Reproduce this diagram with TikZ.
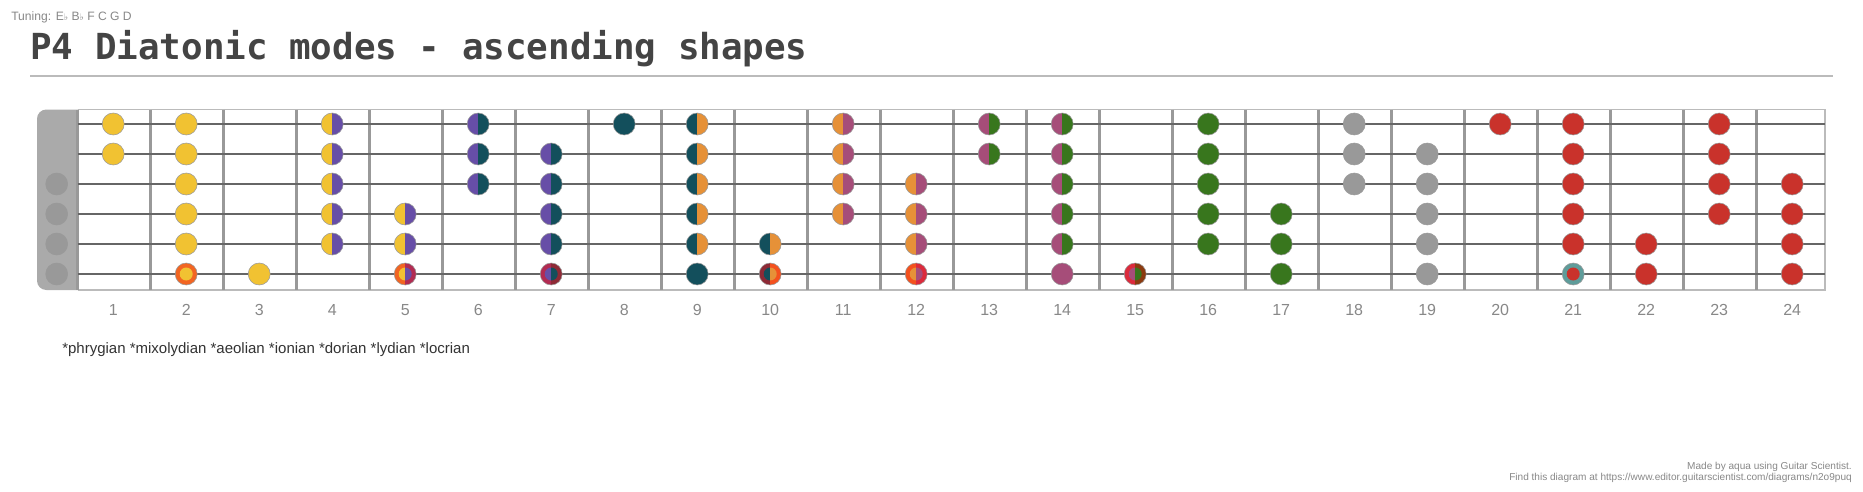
\documentclass[tikz,border=0pt]{standalone}
\usepackage{fontspec}
\setmainfont{Liberation Sans}
\newfontfamily\titlefont{DejaVu Sans Mono}
\newfontfamily\symfont{DejaVu Sans}
\definecolor{cyellow}{HTML}{F1C232}
\definecolor{cpurple}{HTML}{674EA7}
\definecolor{cteal}{HTML}{134F5C}
\definecolor{corange}{HTML}{E69138}
\definecolor{cpink}{HTML}{A64D79}
\definecolor{cgreen}{HTML}{38761D}
\definecolor{cgray}{HTML}{999999}
\definecolor{cred}{HTML}{C9322B}
\definecolor{rorange}{HTML}{F26522}
\definecolor{rcrimson}{HTML}{B22B52}
\definecolor{rdark}{HTML}{8E2A36}
\definecolor{rorred}{HTML}{F4511E}
\definecolor{rred}{HTML}{DC2A3C}
\definecolor{rbrown}{HTML}{8B3A0F}
\definecolor{rteal}{HTML}{5E9C9A}
\definecolor{dotedge}{HTML}{9A9A9A}
\definecolor{fretcol}{HTML}{999999}
\definecolor{stringcol}{HTML}{666666}
\definecolor{boardedge}{HTML}{BBBBBB}
\definecolor{nutcol}{HTML}{AAAAAA}
\definecolor{titlecol}{HTML}{444444}
\definecolor{numcol}{HTML}{888888}
\newcommand{\fbx}[1]{40.2+73*#1}
\newcommand{\fby}[1]{94+30*#1}
\newcommand{\fbdot}[3]{%
  \fill[#3] ({\fbx{#1}},{\fby{#2}}) circle (11);
  \draw[dotring] ({\fbx{#1}},{\fby{#2}}) circle (11);}
\newcommand{\fbhalf}[4]{%
  \fill[#3] ({\fbx{#1}},{\fby{#2}}) ++(90:11) arc[start angle=90,end angle=270,radius=11] -- cycle;
  \fill[#4] ({\fbx{#1}},{\fby{#2}}) ++(90:11) arc[start angle=90,end angle=-90,radius=11] -- cycle;
  \draw[dotring] ({\fbx{#1}},{\fby{#2}}) circle (11);}
\newcommand{\fbroot}[6]{%
  \fill[#3] ({\fbx{#1}},{\fby{#2}}) ++(90:11) arc[start angle=90,end angle=270,radius=11] -- cycle;
  \fill[#4] ({\fbx{#1}},{\fby{#2}}) ++(90:11) arc[start angle=90,end angle=-90,radius=11] -- cycle;
  \fill[#5] ({\fbx{#1}},{\fby{#2}}) ++(90:6.5) arc[start angle=90,end angle=270,radius=6.5] -- cycle;
  \fill[#6] ({\fbx{#1}},{\fby{#2}}) ++(90:6.5) arc[start angle=90,end angle=-90,radius=6.5] -- cycle;
  \draw[dotring] ({\fbx{#1}},{\fby{#2}}) circle (11);}
\begin{document}
\begin{tikzpicture}[x=0.75pt,y=-0.75pt,
  dotring/.style={draw=dotedge,line width=0.4pt},
  fretline/.style={draw=fretcol,line width=2.2pt},
  stringline/.style={draw=stringcol,line width=0.9pt},
  fretnum/.style={text=numcol,font=\fontsize{12}{14}\selectfont,inner sep=0pt,anchor=center},
  smalltxt/.style={inner sep=0pt}]
\useasboundingbox (0,0) rectangle (1863,492);
\fill[white] (0,0) rectangle (1863,492);
% header
\node[smalltxt,anchor=west,text=numcol,font=\fontsize{9.1}{11}\selectfont] (tuning) at (11,17) {Tuning: E{\symfont\fontsize{6.8}{8}\selectfont♭} B{\symfont\fontsize{6.8}{8}\selectfont♭} F C G D};
\node[smalltxt,anchor=base west,text=titlecol,font=\titlefont\bfseries\fontsize{26.9}{30}\selectfont] (title) at (30,60) {P4 Diatonic modes - ascending shapes};
\draw[boardedge,line width=1.5pt] (30,76) -- (1833,76);
% board
\fill[nutcol,rounded corners=7pt] (37,109.5) rectangle (90,290);
\fill[white] (77.7,109.5) rectangle (1825,290);
\draw[boardedge,line width=1pt] (77.7,109.5) -- (1825,109.5) -- (1825,290) -- (77.7,290);
\foreach \k in {0,...,23} { \draw[fretline] ({77.7+73*\k},109.5) -- ({77.7+73*\k},290); }
\foreach \s in {1,...,6} { \draw[stringline] (77.7,{\fby{\s}}) -- (1825,{\fby{\s}}); }
% open strings
\foreach \s in {3,4,5,6} { \fill[cgray] (56.7,{\fby{\s}}) circle (11); \draw[draw=black!40,line width=0.4pt] (56.7,{\fby{\s}}) circle (11); }
% fret numbers
\foreach \n in {1,...,24} { \node[fretnum] (f\n) at ({\fbx{\n}},310) {\n}; }
% dots
\foreach \s in {1,2} {\fbdot{1}{\s}{cyellow}}
\foreach \s in {1,...,5} {\fbdot{2}{\s}{cyellow}}
\fbroot{2}{6}{rorange}{rorange}{cyellow}{cyellow}
\fbdot{3}{6}{cyellow}
\foreach \s in {1,...,5} {\fbhalf{4}{\s}{cyellow}{cpurple}}
\foreach \s in {4,5} {\fbhalf{5}{\s}{cyellow}{cpurple}}
\fbroot{5}{6}{rorange}{rcrimson}{cyellow}{cpurple}
\foreach \s in {1,2,3} {\fbhalf{6}{\s}{cpurple}{cteal}}
\foreach \s in {2,...,5} {\fbhalf{7}{\s}{cpurple}{cteal}}
\fbroot{7}{6}{rcrimson}{rdark}{cpurple}{cteal}
\fbdot{8}{1}{cteal}
\foreach \s in {1,...,5} {\fbhalf{9}{\s}{cteal}{corange}}
\fbdot{9}{6}{cteal}
\fbhalf{10}{5}{cteal}{corange}
\fbroot{10}{6}{rdark}{rorred}{cteal}{corange}
\foreach \s in {1,...,4} {\fbhalf{11}{\s}{corange}{cpink}}
\foreach \s in {3,4,5} {\fbhalf{12}{\s}{corange}{cpink}}
\fbroot{12}{6}{rorred}{rred}{corange}{cpink}
\foreach \s in {1,2} {\fbhalf{13}{\s}{cpink}{cgreen}}
\foreach \s in {1,...,5} {\fbhalf{14}{\s}{cpink}{cgreen}}
\fbdot{14}{6}{cpink}
\fbroot{15}{6}{rred}{rbrown}{cpink}{cgreen}
\foreach \s in {1,...,5} {\fbdot{16}{\s}{cgreen}}
\foreach \s in {4,5,6} {\fbdot{17}{\s}{cgreen}}
\foreach \s in {1,2,3} {\fbdot{18}{\s}{cgray}}
\foreach \s in {2,...,6} {\fbdot{19}{\s}{cgray}}
\fbdot{20}{1}{cred}
\foreach \s in {1,...,5} {\fbdot{21}{\s}{cred}}
\fbroot{21}{6}{rteal}{rteal}{cred}{cred}
\foreach \s in {5,6} {\fbdot{22}{\s}{cred}}
\foreach \s in {1,...,4} {\fbdot{23}{\s}{cred}}
\foreach \s in {3,...,6} {\fbdot{24}{\s}{cred}}
% legend
\node[smalltxt,anchor=west,text=black!80,font=\fontsize{11.25}{13}\selectfont] (legend) at (62,350) {*phrygian *mixolydian *aeolian *ionian *dorian *lydian *locrian};
% footer
\node[smalltxt,anchor=east,text=numcol,font=\fontsize{7.55}{9}\selectfont] (made) at (1852,467) {Made by aqua using Guitar Scientist.};
\node[smalltxt,anchor=east,text=numcol,font=\fontsize{7.55}{9}\selectfont] (find) at (1852,477.5) {Find this diagram at https://www.editor.guitarscientist.com/diagrams/n2o9puq};
\end{tikzpicture}
\end{document}
